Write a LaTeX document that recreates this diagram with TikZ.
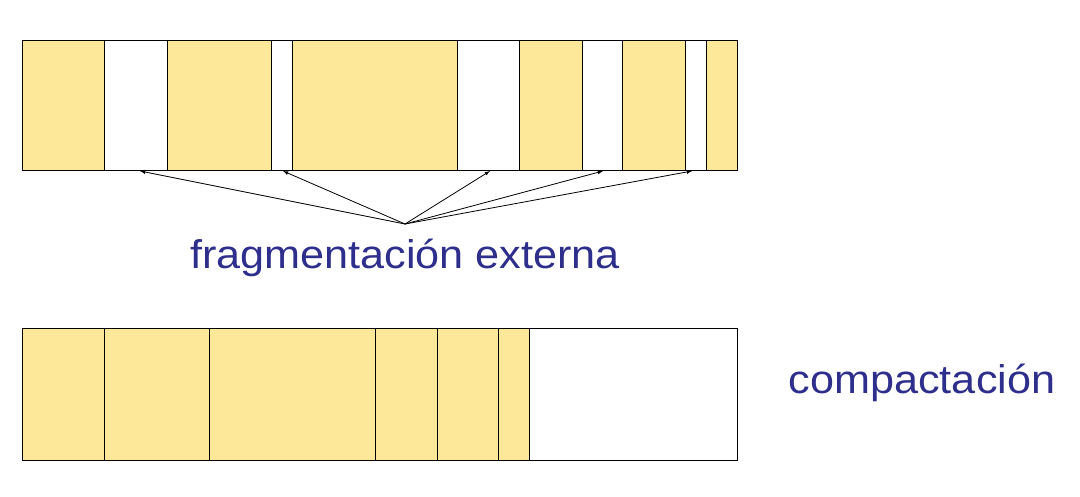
\documentclass[tikz,border=0pt]{standalone}
\usepackage{fontspec}
\setmainfont{Liberation Sans}
\definecolor{yel}{HTML}{FDE89A}
\definecolor{txt}{HTML}{2E2E8C}
\begin{document}
\begin{tikzpicture}[x=1pt,y=-1pt,
  seg/.style={draw=black,line width=1pt},
  lbl/.style={text=txt,font=\fontsize{40}{46}\selectfont,inner sep=0pt,xscale=1.08},
  arr/.style={-latex,line width=0.8pt}]
\useasboundingbox (0,0) rectangle (1080,496);
% top bar
\foreach \a/\b/\c in {22/104/yel,104/167/white,167/271/yel,271/292/white,292/457/yel,457/519/white,519/582/yel,582/622/white,622/685/yel,685/706/white,706/737/yel}
  \draw[seg,fill=\c] (\a,40) rectangle (\b,170);
% bottom bar
\foreach \a/\b/\c in {22/104/yel,104/209/yel,209/375/yel,375/437/yel,437/498/yel,498/529/yel,529/737/white}
  \draw[seg,fill=\c] (\a,328) rectangle (\b,460);
\coordinate (o) at (405,224);
\foreach \n/\x in {a/140,b/283,c/490,d/603,e/692}
  \coordinate (\n) at (\x,171);
\foreach \n in {a,b,c,d,e} \draw[arr] (o) -- (\n);
\node[lbl] (f) at (405,258) {fragmentación externa};
\node[lbl] (g) at (922,383) {compactación};
\end{tikzpicture}
\end{document}
